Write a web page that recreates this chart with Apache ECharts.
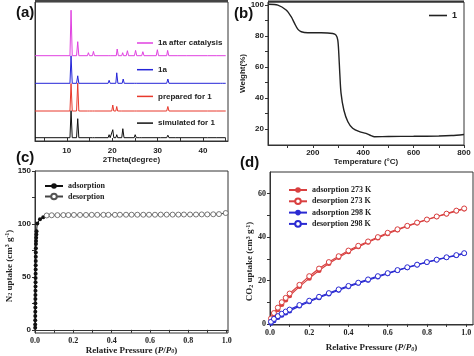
<!DOCTYPE html>
<html><head><meta charset="utf-8">
<script src="https://cdn.jsdelivr.net/npm/echarts@6.0.0/dist/echarts.min.js"></script>
<style>html,body{margin:0;padding:0;background:#fff}#c{width:474px;height:356px}</style>
</head><body><div id="c"></div><script>
// ---- Panel (a): PXRD patterns (2theta, relative intensity) ----
const xrdNames = ['simulated for 1', 'prepared for 1', '1a', '1a after catalysis'];
const xrdOffsets = [3.3, 30, 57.7, 85.3];
const xrdSimulated = [[3,0],[10.7,0],[10.94,27],[11.2,0],[12.15,0],[12.41,19],[12.65,0],[15.65,0],[15.87,2],[16.1,0],[19.1,0],[19.32,3],[19.55,0],[19.9,0],[20.13,8],[20.35,0],[20.8,0],[21.0,3],[21.2,0],[22.1,0],[22.34,9],[22.6,0],[24.85,0],[25.06,3],[25.3,0],[25.95,0],[26.16,1.5],[26.4,0],[30.1,0],[30.35,2],[30.6,0],[32.0,0],[32.26,2.5],[32.5,0],[34.0,0],[34.25,1.5],[34.5,0],[41.0,0],[41.2,1],[41.4,0],[42.9,0],[43.1,1],[43.3,0],[45,0]];
const xrdPrepared = [[3,0],[10.7,0],[10.94,27.5],[11.2,0],[12.15,0],[12.41,28],[12.65,0],[14.55,0],[14.76,1.5],[15.0,0],[15.65,0],[15.87,1.5],[16.1,0],[19.9,0],[20.13,6],[20.35,0],[20.8,0],[21.0,4.5],[21.2,0],[22.1,0],[22.34,2],[22.6,0],[24.85,0],[25.06,1.5],[25.3,0],[32.0,0],[32.26,4.5],[32.5,0],[41.0,0],[41.2,1.5],[41.4,0],[42.9,0],[43.1,1.5],[43.3,0],[45,0]];
const xrd1a = [[3,0],[10.7,0],[10.94,27.5],[11.2,0],[12.15,0],[12.41,7.5],[12.65,0],[19.1,0],[19.32,3],[19.55,0],[20.8,0],[21.0,10.5],[21.25,0],[22.2,0],[22.42,4.3],[22.65,0],[24.85,0],[25.06,1],[25.3,0],[32.0,0],[32.26,4.3],[32.5,0],[43.8,0],[44.03,1.7],[44.25,0],[45,0]];
const xrdAfter = [[3,0],[10.7,0],[10.94,45.5],[11.2,0],[12.15,0],[12.41,14],[12.65,0],[14.55,0],[14.76,3],[15.0,0],[15.65,0],[15.87,4.3],[16.1,0],[19.1,0],[19.32,2],[19.55,0],[20.9,0],[21.1,6.7],[21.35,0],[22.1,0],[22.3,3],[22.5,0],[23.1,0],[23.35,5],[23.6,0],[24.9,0],[25.15,5.3],[25.4,0],[26.5,0],[26.75,4],[27.0,0],[29.7,0],[29.95,6],[30.2,0],[32.0,0],[32.2,5.3],[32.45,0],[34.3,0],[34.5,2],[34.7,0],[36.3,0],[36.5,1.5],[36.7,0],[41.0,0],[41.2,1.5],[41.4,0],[42.9,0],[43.1,1.5],[43.3,0],[45,0]];
const xrdTicks = [10, 20, 30, 40];
const xrdMinorTicks = [5, 10, 15, 20, 25, 30, 35, 40, 45];

// ---- Panel (b): TGA ----
const tgaTemp = [25,61,94,114,127.5,141,154,180,233,279,292,299,303,307,312,323,339,358,385,411,431,444,500,600,700,750,800];
const tgaWeight = [100.5,100,96.8,92.5,88.2,84.3,82.8,82.2,82.2,81.7,80.6,77.4,68.8,55.9,43,32.3,24.7,20.5,18.3,17.2,15.7,15,15.2,15.3,15.5,15.8,16.5];
const tgaXLabels = [200, 400, 600, 800];
const tgaXTicks = [100, 200, 300, 400, 500, 600, 700, 800];
const tgaYLabels = [20, 40, 60, 80, 100];
const tgaYTicks = [20, 30, 40, 50, 60, 70, 80, 90, 100];

// ---- Panel (c): N2 isotherm ----
const n2AdsP = [0.001,0.001,0.0012,0.0014,0.0015,0.0017,0.0018,0.002,0.0022,0.0024,0.0026,0.0028,0.003,0.0032,0.0034,0.0036,0.0038,0.004,0.0043,0.0046,0.005,0.0055,0.006,0.007,0.008,0.012,0.026,0.043,0.061];
const n2AdsU = [2,5,9,13,17,21,25,29,33,37,41,45,49,53,57,61,65,69,73,77,81,84,87,90,93,100.5,104.4,106.3,107.8];
const n2DesP = [0.061,0.087,0.117,0.148,0.174,0.203,0.235,0.266,0.296,0.325,0.357,0.383,0.417,0.443,0.475,0.504,0.534,0.565,0.595,0.626,0.656,0.687,0.718,0.748,0.777,0.809,0.84,0.87,0.899,0.93,0.96,0.995];
const n2DesU = [108.0,108.2,108.3,108.4,108.4,108.5,108.5,108.5,108.6,108.6,108.6,108.6,108.6,108.7,108.7,108.7,108.7,108.7,108.7,108.7,108.8,108.8,108.8,108.8,108.9,108.9,108.9,109,109,109.1,109.3,110.3];
const n2YLabels = [0, 50, 100, 150];
const n2YTicks = [0, 25, 50, 75, 100, 125, 150];
const pLabels = [0, 0.2, 0.4, 0.6, 0.8, 1.0];
const pTicks = [0, 0.1, 0.2, 0.3, 0.4, 0.5, 0.6, 0.7, 0.8, 0.9, 1.0];

// ---- Panel (d): CO2 isotherms ----
const co2P = [0.005,0.02,0.04,0.06,0.08,0.1,0.15,0.2,0.25,0.3,0.35,0.4,0.45,0.5,0.55,0.6,0.65,0.7,0.75,0.8,0.85,0.9,0.95,0.99];
const co2Ads273 = [1.5,4,6.5,9,11,13,17.2,21,24.6,27.8,30.6,33.3,35.5,37.6,39.6,41.6,43.3,45,46.5,48,49.4,50.7,52,53];
const co2Des273 = [2.5,5,7.5,10,12,14,18,22,25.5,28.5,31.2,33.8,36,38,40,42,43.6,45.2,46.7,48.1,49.5,50.8,52.2,53.2];
const co2Ads298 = [0.3,1.5,3,4,5,6,8.2,10.2,12.1,13.8,15.5,17.1,18.7,20.1,21.6,23.1,24.6,25.9,27.2,28.4,29.5,30.6,31.5,32.4];
const co2Des298 = [1,2.3,3.6,4.7,5.7,6.6,8.7,10.7,12.5,14.2,15.9,17.5,19,20.5,22,23.4,24.8,26.1,27.3,28.5,29.6,30.7,31.7,32.6];
const co2YLabels = [0, 20, 40, 60];
const co2YTicks = [0, 10, 20, 30, 40, 50, 60];

const SANS = 'Liberation Sans';
const SERIF = 'Liberation Serif';
const AX = '#333';
const zip = (a, b) => a.map((v, i) => [v, b[i]]);

function axLine() { return { show: true, lineStyle: { color: AX, width: 1 } }; }

const pName = '{b|Relative Pressure (}{i|P}{b|/}{i|P}{s|0}{b|)}';
const pRich = {
  b: { fontFamily: SERIF, fontWeight: 'bold', fontSize: 9, color: '#222' },
  i: { fontFamily: SERIF, fontWeight: 'bold', fontStyle: 'italic', fontSize: 9, color: '#222' },
  s: { fontFamily: SERIF, fontWeight: 'bold', fontStyle: 'italic', fontSize: 6, color: '#222', verticalAlign: 'bottom', padding: [3, 0, 0, 0] }
};
const upRich = {
  b: { fontFamily: SERIF, fontWeight: 'bold', fontSize: 9, color: '#222' },
  s: { fontFamily: SERIF, fontWeight: 'bold', fontSize: 6, color: '#222', verticalAlign: 'bottom', padding: [3, 0, 0, 0] },
  p: { fontFamily: SERIF, fontWeight: 'bold', fontSize: 6, color: '#222', verticalAlign: 'top', padding: [0, 0, 3, 0] }
};

const xrdData = [xrdSimulated, xrdPrepared, xrd1a, xrdAfter];
const xrdColors = ['#111111', '#e8392c', '#2525d8', '#e040e0'];

const series = [];
xrdData.forEach((d, k) => {
  series.push({
    name: xrdNames[k], type: 'line', xAxisIndex: 0, yAxisIndex: 0,
    data: d.map(p => [p[0], p[1] + xrdOffsets[k]]),
    symbol: 'none', lineStyle: { width: 1, color: xrdColors[k] }, itemStyle: { color: xrdColors[k] },
    animation: false
  });
});
series.push({
  name: '1', type: 'line', xAxisIndex: 1, yAxisIndex: 1, data: zip(tgaTemp, tgaWeight),
  smooth: 0.3, symbol: 'none', lineStyle: { width: 1.4, color: '#222' }, itemStyle: { color: '#222' }, animation: false
});
series.push({
  name: 'adsorption', type: 'line', xAxisIndex: 2, yAxisIndex: 2, data: zip(n2AdsP, n2AdsU),
  symbol: 'circle', symbolSize: 4, showAllSymbol: true,
  lineStyle: { width: 1, color: '#111' }, itemStyle: { color: '#111' }, animation: false
});
series.push({
  name: 'desorption', type: 'line', xAxisIndex: 2, yAxisIndex: 2, data: zip(n2DesP, n2DesU),
  symbol: 'circle', symbolSize: 5, showAllSymbol: true,
  lineStyle: { width: 1, color: '#444' }, itemStyle: { color: '#fff', borderColor: '#555', borderWidth: 0.8 }, animation: false
});
const co2Sets = [
  ['adsorption 273 K', co2Ads273, '#d94040', true],
  ['desorption 273 K', co2Des273, '#d94040', false],
  ['adsorption 298 K', co2Ads298, '#2a2ad2', true],
  ['desorption 298 K', co2Des298, '#2a2ad2', false]
];
co2Sets.forEach(s => {
  series.push({
    name: s[0], type: 'line', xAxisIndex: 3, yAxisIndex: 3, data: zip(co2P, s[1]),
    symbol: 'circle', symbolSize: 5, showAllSymbol: true,
    lineStyle: { width: 1.2, color: s[2] },
    itemStyle: s[3] ? { color: s[2] } : { color: '#fff', borderColor: s[2], borderWidth: 1 },
    animation: false
  });
});

const lblSans = { fontFamily: SANS, fontWeight: 'bold', fontSize: 8, color: '#222' };
const lblSerif = { fontFamily: SERIF, fontWeight: 'bold', fontSize: 8, color: '#222' };

const option = {
  backgroundColor: '#fff',
  animation: false,
  title: [
    { text: '(a)', left: 11, top: 0, textStyle: { fontFamily: SANS, fontWeight: 'bold', fontSize: 15, color: '#111' } },
    { text: '(b)', left: 229, top: 1, textStyle: { fontFamily: SANS, fontWeight: 'bold', fontSize: 15, color: '#111' } },
    { text: '(c)', left: 11, top: 145, textStyle: { fontFamily: SANS, fontWeight: 'bold', fontSize: 15, color: '#111' } },
    { text: '(d)', left: 235, top: 150, textStyle: { fontFamily: SANS, fontWeight: 'bold', fontSize: 15, color: '#111' } }
  ],
  graphic: [
    { type: 'line', shape: { x1: 35, y1: 1, x2: 228, y2: 1 }, style: { stroke: '#444', lineWidth: 2 }, silent: true },
    { type: 'line', shape: { x1: 268, y1: 1.5, x2: 464, y2: 1.5 }, style: { stroke: '#333', lineWidth: 2 }, silent: true }
  ],
  grid: [
    { left: 35, top: 2, width: 193, height: 139, show: true, borderColor: AX, borderWidth: 1, containLabel: false, outerBoundsMode: 'none' },
    { left: 268, top: 2, width: 196, height: 143, show: true, borderColor: AX, borderWidth: 1, containLabel: false, outerBoundsMode: 'none' },
    { left: 35, top: 171, width: 193, height: 162, show: true, borderColor: AX, borderWidth: 1, containLabel: false, outerBoundsMode: 'none' },
    { left: 270, top: 172, width: 203, height: 153, show: true, borderColor: AX, borderWidth: 1, containLabel: false, outerBoundsMode: 'none' }
  ],
  legend: [
    { data: ['1a after catalysis', '1a', 'prepared for 1', 'simulated for 1'], orient: 'vertical', left: 132, top: 33,
      icon: 'rect', itemWidth: 16, itemHeight: 1.5, itemGap: 16.7,
      textStyle: { fontFamily: SANS, fontWeight: 'bold', fontSize: 8, lineHeight: 10, color: '#222' } },
    { data: ['1'], left: 424, top: 6, icon: 'rect', itemWidth: 18, itemHeight: 1.6,
      textStyle: { fontFamily: SANS, fontWeight: 'bold', fontSize: 9, color: '#222' } },
    { data: ['adsorption', 'desorption'], orient: 'vertical', left: 39, top: 177, itemWidth: 18, itemHeight: 7, itemGap: 2.5,
      textStyle: { fontFamily: SERIF, fontWeight: 'bold', fontSize: 8, color: '#222' } },
    { data: ['adsorption 273 K', 'desorption 273 K', 'adsorption 298 K', 'desorption 298 K'], orient: 'vertical', left: 283, top: 181,
      itemWidth: 18, itemHeight: 7, itemGap: 3.3, textStyle: { fontFamily: SERIF, fontWeight: 'bold', fontSize: 8, color: '#222' } }
  ],
  xAxis: [
    { type: 'value', gridIndex: 0, min: 3, max: 45.5, name: '2Theta(degree)', nameLocation: 'middle', nameGap: 14,
      nameTextStyle: { fontFamily: SANS, fontWeight: 'bold', fontSize: 8, color: '#222' },
      axisLine: axLine(), splitLine: { show: false },
      axisTick: { show: true, inside: true, length: 3, customValues: xrdMinorTicks, lineStyle: { color: AX } },
      axisLabel: { customValues: xrdTicks, margin: 6, ...lblSans } },
    { type: 'value', gridIndex: 1, min: 22, max: 800, name: 'Temperature (°C)', nameLocation: 'middle', nameGap: 12,
      nameTextStyle: { fontFamily: SANS, fontWeight: 'bold', fontSize: 8, color: '#222' },
      axisLine: axLine(), splitLine: { show: false },
      axisTick: { show: true, length: 3, customValues: tgaXTicks, lineStyle: { color: AX } },
      axisLabel: { customValues: tgaXLabels, margin: 4, ...lblSans } },
    { type: 'value', gridIndex: 2, min: 0, max: 1.007, name: pName, nameLocation: 'middle', nameGap: 12,
      nameTextStyle: { rich: pRich },
      axisLine: axLine(), splitLine: { show: false },
      axisTick: { show: true, length: 3, customValues: pTicks, lineStyle: { color: AX } },
      axisLabel: { customValues: pLabels, margin: 4, formatter: v => v.toFixed(1), ...lblSerif } },
    { type: 'value', gridIndex: 3, min: 0, max: 1.035, name: pName, nameLocation: 'middle', nameGap: 18,
      nameTextStyle: { rich: pRich },
      axisLine: axLine(), splitLine: { show: false },
      axisTick: { show: true, length: 3, customValues: pTicks, lineStyle: { color: AX } },
      axisLabel: { customValues: pLabels, margin: 4, formatter: v => v.toFixed(1), ...lblSerif } }
  ],
  yAxis: [
    { type: 'value', gridIndex: 0, min: 0, max: 139, axisLine: axLine(), axisTick: { show: false }, axisLabel: { show: false }, splitLine: { show: false } },
    { type: 'value', gridIndex: 1, min: 9.7, max: 102, name: 'Weight(%)', nameLocation: 'middle', nameGap: 14,
      nameTextStyle: { fontFamily: SANS, fontWeight: 'bold', fontSize: 8, color: '#222' },
      axisLine: axLine(), splitLine: { show: false },
      axisTick: { show: true, length: 3, customValues: tgaYTicks, lineStyle: { color: AX } },
      axisLabel: { customValues: tgaYLabels, margin: 4, ...lblSans } },
    { type: 'value', gridIndex: 2, min: -3, max: 150, name: '{b|N}{s|2}{b| uptake (cm}{p|3}{b| g}{p|-1}{b|)}', nameLocation: 'middle', nameGap: 20,
      nameTextStyle: { rich: upRich, padding: [0, 28, 0, 0] },
      axisLine: axLine(), splitLine: { show: false },
      axisTick: { show: true, length: 3, customValues: n2YTicks, lineStyle: { color: AX } },
      axisLabel: { customValues: n2YLabels, margin: 4, ...lblSans } },
    { type: 'value', gridIndex: 3, min: -0.5, max: 70, name: '{b|CO}{s|2}{b| uptake (cm}{p|3}{b| g}{p|-1}{b|)}', nameLocation: 'middle', nameGap: 14,
      nameTextStyle: { rich: upRich, padding: [0, 26, 0, 0] },
      axisLine: axLine(), splitLine: { show: false },
      axisTick: { show: true, length: 3, customValues: co2YTicks, lineStyle: { color: AX } },
      axisLabel: { customValues: co2YLabels, margin: 4, ...lblSerif } }
  ],
  series: series
};

const chart = echarts.init(document.getElementById('c'), null, { renderer: 'canvas' });
chart.setOption(option);
</script></body></html>
